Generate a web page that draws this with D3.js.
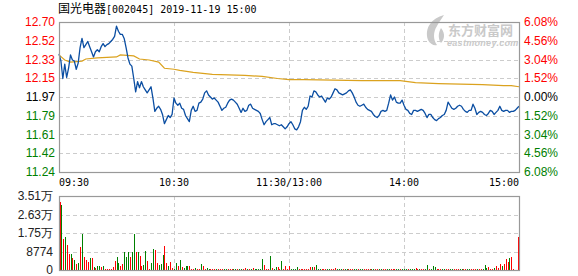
<!DOCTYPE html>
<html>
<head>
<meta charset="utf-8">
<script src="https://cdn.jsdelivr.net/npm/d3@7"></script>
<style>
  body { margin: 0; background: #fff; }
  svg { display: block; }
</style>
</head>
<body>
<div id="chart"></div>
<script>
// ---- data ----
const stockName = "国光电器";
const stockInfo = "[002045] 2019-11-19 15:00";
const prevClose = 11.97;
const priceLabels = ["11.24", "11.42", "11.61", "11.79", "11.97", "12.15", "12.33", "12.52", "12.70"];
const pctLabels = ["6.08%", "4.56%", "3.04%", "1.52%", "0.00%", "1.52%", "3.04%", "4.56%", "6.08%"];
const timeLabels = ["09:30", "10:30", "11:30/13:00", "14:00", "15:00"];
const timeMinutes = [0, 60, 120, 180, 240];
const volLabels = ["0", "8774", "1.75万", "2.63万", "3.51万"];
const volMax = 35096;

// one price per minute, 09:30 .. 15:00
const prices = [
  12.39,12.32,12.15,12.29,12.16,12.25,12.38,12.33,12.32,12.24,
  12.30,12.45,12.54,12.45,12.48,12.51,12.46,12.41,12.36,12.41,
  12.43,12.41,12.46,12.49,12.46,12.48,12.49,12.51,12.53,12.56,
  12.66,12.61,12.58,12.58,12.54,12.45,12.35,12.29,12.27,12.15,
  12.02,12.12,12.06,12.12,12.07,12.04,12.01,12.04,12.07,11.96,
  11.83,11.86,11.88,11.85,11.80,11.71,11.75,11.79,11.77,11.80,
  11.96,11.91,11.89,11.91,11.86,11.85,11.79,11.76,11.73,11.84,
  11.88,11.83,11.84,11.91,11.92,11.95,12.01,12.03,11.99,11.97,
  11.95,11.96,11.94,11.92,11.88,11.84,11.86,11.87,11.91,11.94,
  11.95,11.94,11.92,11.90,11.86,11.82,11.86,11.83,11.84,11.89,
  11.90,11.86,11.85,11.84,11.83,11.81,11.75,11.70,11.73,11.75,
  11.77,11.70,11.71,11.71,11.70,11.69,11.70,11.68,11.66,11.68,
  11.71,11.73,11.70,11.66,11.65,11.68,11.73,11.84,11.87,11.85,
  11.88,11.98,11.97,12.03,12.02,11.99,11.97,11.98,11.95,11.92,
  11.96,11.95,11.97,12.01,12.05,12.04,12.01,12.00,11.99,12.00,
  12.01,12.03,12.04,12.01,11.97,11.92,11.89,11.88,11.89,11.90,
  11.87,11.85,11.84,11.83,11.80,11.78,11.77,11.79,11.83,11.84,
  11.83,11.84,11.91,11.99,11.94,11.97,11.92,11.91,11.91,11.94,
  11.89,11.85,11.84,11.81,11.80,11.84,11.84,11.83,11.84,11.85,
  11.84,11.81,11.77,11.80,11.80,11.77,11.75,11.74,11.76,11.77,
  11.79,11.80,11.84,11.92,11.89,11.86,11.85,11.86,11.88,11.89,
  11.88,11.85,11.83,11.82,11.84,11.84,11.90,11.86,11.80,11.82,
  11.83,11.82,11.80,11.79,11.81,11.84,11.83,11.80,11.82,11.84,
  11.88,11.84,11.83,11.84,11.84,11.82,11.83,11.83,11.84,11.86,
  11.88
];

// average price line, sampled at some minutes
const avgMinutes = [0,3,6,12,14,20,30,32,39,42,47,52,55,60,63,70,80,97,106,114,120,128,158,178,186,198,221,232,236,240];
const avgPrices = [12.38,12.33,12.31,12.32,12.34,12.35,12.36,12.38,12.37,12.34,12.33,12.31,12.25,12.24,12.23,12.21,12.19,12.18,12.17,12.15,12.14,12.14,12.13,12.13,12.11,12.10,12.09,12.08,12.08,12.07];

// volume per minute (shares) and whether it was an up (r) or down (g) tick
const volumes = [
  32250,30670,14550,15650,11700,7590,7590,5690,4590,3000,
  3500,10900,17080,6170,4590,3800,5690,5690,1420,950,
  1900,1900,1260,1900,630,470,470,470,1420,4270,
  6170,3320,1900,3000,8540,6170,8540,6170,8540,17080,
  8540,8540,6640,1900,2530,8850,4270,630,3480,10100,
  9330,3480,2530,3000,7270,11380,3480,1900,3800,950,
  630,3160,1900,4740,1260,1100,1900,1900,1900,470,
  470,1100,470,470,2850,1900,470,1100,470,470,
  320,470,320,470,320,470,320,470,470,320,
  470,320,470,320,470,470,470,1100,470,320,
  470,1100,470,470,470,470,5220,2370,470,470,
  6640,1100,470,1420,1420,470,4270,470,2050,470,
  1900,470,470,470,1580,470,470,470,470,470,
  470,1420,1420,1420,2370,470,470,470,470,470,
  320,470,320,470,950,320,470,470,320,470,
  470,320,470,470,320,470,470,470,320,470,
  470,470,320,470,470,320,470,470,470,320,
  470,470,320,470,470,470,320,470,470,470,
  470,470,320,470,470,470,950,470,320,470,
  470,320,2370,470,470,1900,1420,470,470,320,
  470,470,320,470,470,470,470,320,470,470,
  470,470,320,470,470,320,470,470,470,470,
  470,470,2370,950,1420,470,470,950,1900,950,
  2850,1900,2850,5220,3790,5690,6170,470,0,0,
  15810
];
const volDirs = (
  "rgrgrrgrgr" + "grgrrrgrgr" + "ggrgrrrrrr" + "ggrrgggrgg" + "rgrrggrrgg" +
  "rrgggrrgrr" + "ggrgrgggrr" + "rgrrgrrggr" + "rrgrrrggrr" + "rggrggrrgr" +
  "grgggggrrr" + "grggrrgrrr" + "rggggrrrrr" + "rrgrgggrrr" + "ggrrrgggrg" +
  "grrrggrggr" + "rrrggrrggr" + "rggrrrggrg" + "ggrgggrrgr" + "rggrgggrrr" +
  "ggrrggrrrg" + "grrggrrrgr" + "rgggrrrgrr" + "rgrrrgrrrr" + "r"
).split("");

// ---- layout ----
const width = 578, height = 276;
const left = 59, right = 519;
const priceTop = 22, priceBottom = 172;
const volTop = 196, volBottom = 270;

const red = "#ff0000", green = "#008000", gridColor = "#cccccc", frameColor = "#999999";
const numFont = "'Liberation Sans', Arial, sans-serif";
const monoFont = "'DejaVu Sans Mono', 'Liberation Mono', monospace";
const cjkFont = "'Noto Sans CJK SC', sans-serif";

const svg = d3.select("#chart")
  .append("svg")
  .attr("width", width)
  .attr("height", height)
  .attr("viewBox", [0, 0, width, height]);

const x = d3.scaleLinear().domain([0, 240]).range([left, right]);
const y = d3.scaleLinear().domain([11.24, 12.70]).range([priceBottom, priceTop]);
const yv = d3.scaleLinear().domain([0, volMax]).range([volBottom, volTop]);

const priceLevels = priceLabels.map((d, i) => 11.24 + i * (12.70 - 11.24) / 8);
const volLevels = volLabels.map((d, i) => i * volMax / 4);

/*********************************************/
/*              watermark                    */
/*********************************************/
const mark = svg.append("g").attr("fill", "#c9c9c9");
mark.append("path")
  .attr("d", "M444,15 C432,18 424,28 428,40 C430,44 434,46 437,45 C433,40 433,32 437,26 C439,22 442,18 444,15 Z M441,28 C438,33 438,39 441,43 C444,40 446,34 441,28 Z");
mark.append("text")
  .attr("x", 448).attr("y", 35)
  .attr("font-family", cjkFont)
  .attr("font-size", 13)
  .attr("font-weight", 700)
  .text("东方财富网");
mark.append("text")
  .attr("x", 447).attr("y", 46)
  .attr("font-family", numFont)
  .attr("font-size", 9)
  .attr("font-weight", 700)
  .attr("font-style", "italic")
  .attr("letter-spacing", 0.3)
  .text("eastmoney.com");

/*********************************************/
/*              grids and frames             */
/*********************************************/
const grid = svg.append("g")
  .attr("stroke", gridColor)
  .attr("stroke-dasharray", "4,3")
  .attr("shape-rendering", "crispEdges");

grid.selectAll(".hp")
  .data(priceLevels.slice(1, -1))
  .join("line")
    .attr("x1", left).attr("x2", right)
    .attr("y1", d => Math.round(y(d)) + 0.5)
    .attr("y2", d => Math.round(y(d)) + 0.5);

grid.selectAll(".hv")
  .data(volLevels.slice(1, -1))
  .join("line")
    .attr("x1", left).attr("x2", right)
    .attr("y1", d => Math.round(yv(d)) + 0.5)
    .attr("y2", d => Math.round(yv(d)) + 0.5);

[[priceTop, priceBottom], [volTop, volBottom]].forEach(([t, b]) => {
  grid.append("g").selectAll("line")
    .data(timeMinutes.slice(1, -1))
    .join("line")
      .attr("x1", d => Math.round(x(d)) + 0.5)
      .attr("x2", d => Math.round(x(d)) + 0.5)
      .attr("y1", t).attr("y2", b);
});

/*********************************************/
/*              price and average lines      */
/*********************************************/
const avgLine = d3.line()
  .x((d, i) => x(avgMinutes[i]))
  .y(d => y(d));

svg.append("path")
  .attr("d", avgLine(avgPrices))
  .attr("fill", "none")
  .attr("stroke", "#dba21e")
  .attr("stroke-width", 1.2);

const priceLine = d3.line()
  .x((d, i) => x(i))
  .y(d => y(d));

svg.append("path")
  .attr("d", priceLine(prices))
  .attr("fill", "none")
  .attr("stroke", "#0b4ea2")
  .attr("stroke-width", 1.3)
  .attr("stroke-linejoin", "round");

/*********************************************/
/*              volume bars                  */
/*********************************************/
svg.append("g")
  .attr("shape-rendering", "crispEdges")
  .selectAll("rect")
  .data(volumes)
  .join("rect")
    .attr("x", (d, i) => Math.min(right - 1, Math.max(left + 1, Math.round(x(i)))))
    .attr("y", d => yv(d))
    .attr("width", 1)
    .attr("height", d => volBottom - yv(d))
    .attr("fill", (d, i) => volDirs[i] === "r" ? red : green);

// frames
[[priceTop, priceBottom], [volTop, volBottom]].forEach(([t, b]) => {
  svg.append("rect")
    .attr("x", left + 0.5).attr("y", t + 0.5)
    .attr("width", right - left).attr("height", b - t)
    .attr("fill", "none")
    .attr("stroke", frameColor)
    .attr("stroke-width", 1.2);
});

/*********************************************/
/*              labels                       */
/*********************************************/
const levelColor = v => Math.abs(v - prevClose) < 0.01 ? "#000" : (v > prevClose ? red : green);

svg.append("g")
  .attr("font-family", numFont)
  .attr("font-size", 12)
  .attr("text-anchor", "end")
  .attr("dominant-baseline", "central")
  .selectAll("text")
  .data(priceLevels)
  .join("text")
    .attr("x", 55)
    .attr("y", d => y(d))
    .attr("fill", d => levelColor(d))
    .text((d, i) => priceLabels[i]);

svg.append("g")
  .attr("font-family", numFont)
  .attr("font-size", 12)
  .attr("dominant-baseline", "central")
  .selectAll("text")
  .data(priceLevels)
  .join("text")
    .attr("x", 524)
    .attr("y", d => y(d))
    .attr("fill", d => levelColor(d))
    .text((d, i) => pctLabels[i]);

svg.append("g")
  .attr("font-family", numFont)
  .attr("font-size", 12)
  .attr("text-anchor", "end")
  .attr("dominant-baseline", "central")
  .attr("fill", "#222")
  .selectAll("text")
  .data(volLevels)
  .join("text")
    .attr("x", 53)
    .attr("y", d => yv(d))
    .text((d, i) => volLabels[i]);

svg.append("g")
  .attr("font-family", monoFont)
  .attr("font-size", 10)
  .attr("fill", "#000")
  .selectAll("text")
  .data(timeMinutes)
  .join("text")
    .attr("x", d => x(d))
    .attr("y", 186)
    .attr("text-anchor", (d, i) => i === 0 ? "start" : (i === timeMinutes.length - 1 ? "end" : "middle"))
    .text((d, i) => timeLabels[i]);

// title
const title = svg.append("text")
  .attr("x", 58)
  .attr("y", 13)
  .attr("fill", "#000");
title.append("tspan")
  .attr("font-family", cjkFont)
  .attr("font-size", 12)
  .text(stockName);
title.append("tspan")
  .attr("font-family", monoFont)
  .attr("font-size", 10)
  .text(stockInfo);
</script>
</body>
</html>
